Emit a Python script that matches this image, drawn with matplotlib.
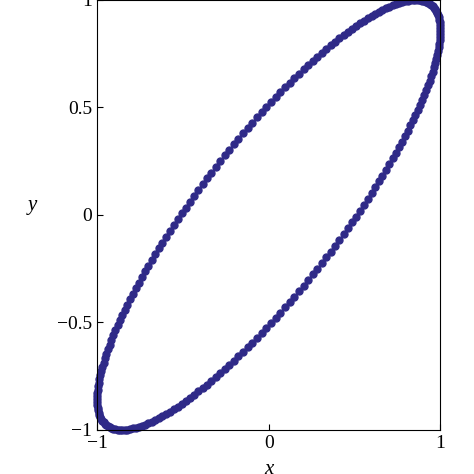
import matplotlib
matplotlib.use('Agg')
import matplotlib.pyplot as plt
import numpy as np

# curve parameters
n_points = 230
phase = 0.54          # phase shift between x and y (rad)
amp_x = 1.0
amp_y = 1.0
xticks = [-1, 0, 1]
yticks = [-1, -0.5, 0, 0.5, 1]
yticklabels = ['\u22121', '\u22120.5', '0', '0.5', '1']
xticklabels = ['\u22121', '0', '1']

t = np.linspace(0, 2 * np.pi, n_points, endpoint=False)
x = amp_x * np.cos(t)
y = amp_y * np.cos(t - phase)

plt.rcParams['font.family'] = ['Liberation Serif', 'DejaVu Serif']
fig = plt.figure(figsize=(4.74, 4.74), dpi=100)
ax = fig.add_axes([0.205, 0.093, 0.724, 0.907])
ax.plot(x, y, 'o', color='#2f2a88', markersize=5, clip_on=False)
ax.set_xlim(-1, 1)
ax.set_ylim(-1, 1)
ax.set_xticks(xticks)
ax.set_xticklabels(xticklabels)
ax.set_yticks(yticks)
ax.set_yticklabels(yticklabels)
ax.tick_params(direction='in', labelsize=14, length=4)
ax.set_ylabel('y', fontsize=15, style='italic', rotation=0, labelpad=18)
ax.set_xlabel('x', fontsize=15, style='italic', labelpad=6)
fig.savefig('out.png', dpi=100)
